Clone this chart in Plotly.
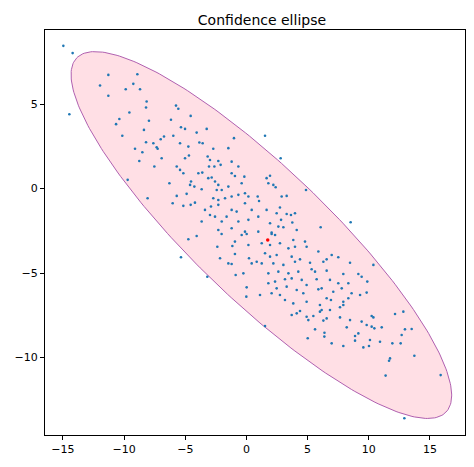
import numpy as np
import plotly.graph_objects as go

x_vals = [-14.97,-14.21,-14.48,-11.29,-8.92,-11.97,-9.25,-9.87,-8.70,-11.29,-8.16,-8.21,-5.76,-5.57,-4.56,-9.57,-10.39,-10.66,-7.97,-6.17,-5.35,-5.02,-3.25,-8.38,-10.15,-4.07,-6.74,-5.98,-7.01,-7.61,-8.21,-5.43,-3.85,-3.58,-1.02,-7.34,-7.26,-9.11,-8.51,-4.75,-1.48,-2.71,-8.76,-6.93,-5.02,-4.70,-3.17,-2.98,-2.30,-2.11,-2.62,-3.06,-7.53,-5.70,-5.43,-0.66,-1.21,-3.93,-3.61,-5.16,-9.71,-6.30,-4.53,-4.61,-3.12,-2.84,-2.57,-2.30,-1.21,-0.94,-0.17,-2.43,-2.02,-1.48,-0.39,-0.12,-5.70,-4.89,-4.26,-3.66,-2.71,-2.30,-1.75,-1.21,-0.66,0.16,-8.08,-6.03,-5.16,-4.56,-4.21,-3.39,-2.90,-2.30,-1.21,-0.80,-0.12,0.43,-2.98,-2.57,-2.02,-1.62,-0.66,0.16,-3.66,-2.30,-1.21,-0.12,
 1.52,2.80,1.65,1.93,1.79,2.20,2.39,4.87,2.88,3.29,0.92,1.03,2.74,1.65,2.47,3.29,3.64,3.97,0.97,2.83,1.93,3.75,2.61,3.02,8.52,6.07,4.11,2.06,
 -4.75,-4.07,-2.03,-2.16,-2.38,-5.35,-3.20,-1.48,-1.21,-0.88,-0.25,-0.94,-1.15,-0.94,0.02,-0.01,0.16,0.21,0.43,0.02,-0.39,
 0.97,2.06,2.34,1.25,1.93,2.74,3.83,4.79,4.92,3.97,3.43,1.52,1.93,2.47,3.70,4.38,5.88,6.97,7.51,8.47,10.38,0.84,1.25,2.20,3.02,3.97,5.20,6.29,6.56,1.79,2.61,3.43,4.24,5.33,5.61,6.56,7.92,9.15,9.42,2.34,3.15,3.70,4.52,4.92,5.74,6.83,7.51,8.33,9.88,1.79,2.47,3.29,4.11,4.65,5.88,6.15,7.10,7.79,8.60,9.29,9.83,1.11,2.06,2.74,3.15,3.83,4.92,6.01,6.56,6.91,7.92,8.33,3.70,4.11,4.38,4.92,5.47,6.01,6.15,6.83,7.65,7.92,5.06,6.29,6.56,7.65,8.47,9.42,9.83,10.24,10.38,10.24,10.46,11.06,12.15,12.83,1.52,5.61,6.38,8.20,8.88,9.15,10.10,8.88,6.37,5.01,6.97,7.92,9.56,10.02,10.92,11.93,12.61,12.69,12.96,13.51,11.74,11.66,13.73,11.38,15.88,12.91]
y_vals = [8.46,8.03,4.41,6.74,6.78,6.11,6.21,5.89,5.89,5.50,5.16,4.81,4.92,4.73,4.31,4.51,4.13,3.82,4.02,4.08,3.64,3.54,3.54,3.48,3.13,3.32,3.09,3.13,2.93,2.69,2.75,2.69,2.73,2.69,2.99,2.45,2.36,2.36,2.16,2.49,2.40,2.36,1.64,1.80,1.80,1.96,1.90,1.70,1.64,1.41,1.31,1.31,1.31,1.31,1.11,1.31,1.60,0.91,0.95,0.91,0.52,0.32,0.42,0.22,0.62,0.66,0.42,0.22,0.91,0.75,0.71,-0.08,-0.08,0.12,0.32,-0.27,-0.43,-0.31,0.12,-0.04,-0.57,-0.67,-0.57,-0.47,-0.37,-0.47,-0.57,-0.87,-1.02,-0.96,-0.83,-1.26,-1.06,-0.96,-1.26,-1.36,-0.87,-1.26,-1.56,-1.66,-1.95,-1.66,-1.95,-1.85,-1.95,-2.45,-2.35,-2.55,
 3.13,1.80,0.62,0.76,0.32,0.22,0.08,-0.08,-0.47,-0.43,-0.47,-0.73,-1.12,-1.26,-1.46,-1.50,-1.56,-1.46,-1.66,-1.85,-2.05,-2.01,-2.25,-2.29,-1.99,-2.29,-2.45,-2.60,
 -3.00,-2.81,-2.69,-4.13,-3.44,-4.07,-5.22,-4.43,-4.47,-5.12,-5.02,-3.14,-3.40,-3.87,-5.85,-6.40,-3.34,-4.13,-4.43,-2.69,-2.75,
 -2.55,-2.69,-2.75,-3.24,-3.34,-3.24,-3.04,-3.14,-3.44,-3.44,-3.54,-3.83,-4.03,-3.93,-4.03,-4.19,-3.73,-3.93,-4.07,-4.39,-4.52,-4.33,-4.43,-4.43,-4.52,-4.33,-4.39,-4.33,-4.19,-5.02,-4.92,-5.02,-4.92,-4.78,-4.92,-4.86,-5.06,-5.06,-5.22,-5.51,-5.37,-5.32,-5.41,-5.71,-5.37,-5.41,-5.61,-5.61,-5.51,-5.61,-5.91,-5.81,-6.01,-6.20,-5.97,-5.91,-6.11,-5.91,-6.20,-6.30,-6.16,-6.30,-6.20,-6.30,-6.60,-6.80,-6.70,-6.90,-6.50,-6.60,-6.70,-6.50,-7.49,-7.39,-7.25,-7.59,-7.55,-7.29,-7.19,-7.19,-7.03,-6.90,-7.79,-7.82,-7.69,-7.63,-7.79,-7.88,-8.08,-7.55,-7.63,-8.18,-8.28,-8.22,-7.43,-7.29,-8.14,-8.34,-8.54,-8.22,-8.73,-8.58,-8.97,-9.01,-8.77,-8.87,-9.17,-9.33,-9.41,-9.33,-9.07,-9.17,-9.17,-8.67,-8.34,-8.32,-10.06,-10.20,-9.90,-11.08,-11.05,-13.61]

mean_point = [1.74, -3.04]
ell_center = [1.22, -2.75]
ell_scale = [15.56, 10.87]
ell_pearson = -0.874

t = np.linspace(0, 2*np.pi, 300)
rx = np.sqrt(1 + ell_pearson); ry = np.sqrt(1 - ell_pearson)
ex = ell_center[0] + ell_scale[0]*(rx*np.cos(t) - ry*np.sin(t))/np.sqrt(2)
ey = ell_center[1] + ell_scale[1]*(rx*np.cos(t) + ry*np.sin(t))/np.sqrt(2)

fig = go.Figure()
fig.add_trace(go.Scatter(x=ex, y=ey, mode="lines", fill="toself",
    fillcolor="rgba(255,192,203,0.5)", line=dict(color="#b060b0", width=1), hoverinfo="skip"))
fig.add_trace(go.Scatter(x=x_vals, y=y_vals, mode="markers",
    marker=dict(size=2.6, color="#1f77b4")))
fig.add_trace(go.Scatter(x=[mean_point[0]], y=[mean_point[1]], mode="markers",
    marker=dict(size=3.5, color="red")))

ax = dict(showgrid=False, zeroline=False, showline=True, linecolor="black", mirror=True,
          ticks="outside", ticklen=4, tickcolor="black", automargin=False,
          tickfont=dict(size=11, color="black"))
fig.update_layout(
    width=466, height=459, showlegend=False,
    plot_bgcolor="white", paper_bgcolor="white",
    margin=dict(l=37, r=9, t=22, b=32),
    title=dict(text="Confidence ellipse", x=0.545, y=0.985, xanchor="center", yanchor="top",
               font=dict(size=14, color="black", family="DejaVu Sans")),
    font=dict(family="DejaVu Sans"),
    xaxis=dict(range=[-16.47, 17.87], tickvals=[-15,-10,-5,0,5,10,15], **ax),
    yaxis=dict(range=[-14.6, 9.4], tickvals=[-10,-5,0,5], **ax),
)
fig.write_html("out.html")
